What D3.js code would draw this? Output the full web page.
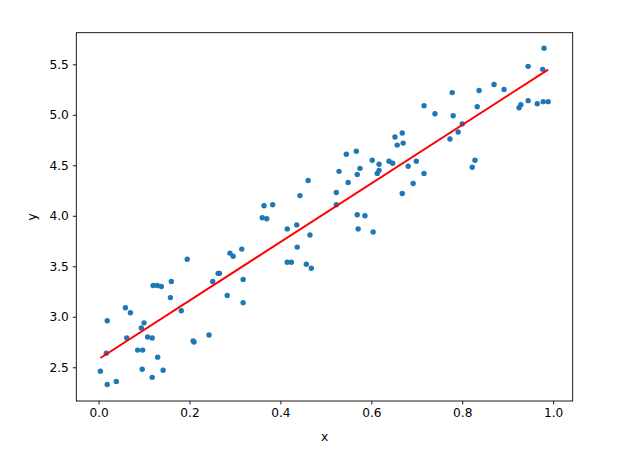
<!DOCTYPE html>
<html>
<head>
<meta charset="utf-8">
<script src="https://cdn.jsdelivr.net/npm/d3@7"></script>
<style>
  body { margin: 0; background: #fff; }
  text { font-family: "DejaVu Sans", sans-serif; }
</style>
</head>
<body>
<svg id="chart" width="622" height="451"></svg>
<script>
// scatter values
var xs = [0.004, 0.019, 0.039, 0.017, 0.019, 0.059, 0.070, 0.062, 0.094, 0.100,
  0.108, 0.118, 0.086, 0.097, 0.096, 0.130, 0.118, 0.142, 0.120, 0.129,
  0.138, 0.160, 0.158, 0.182, 0.195, 0.208, 0.210, 0.243, 0.251, 0.263,
  0.266, 0.283, 0.289, 0.296, 0.315, 0.318, 0.318, 0.360, 0.370, 0.364,
  0.383, 0.415, 0.436, 0.415, 0.424, 0.437, 0.457, 0.468, 0.465, 0.443,
  0.461, 0.523, 0.523, 0.529, 0.549, 0.545, 0.567, 0.569, 0.575, 0.569,
  0.571, 0.586, 0.604, 0.602, 0.617, 0.613, 0.617, 0.639, 0.647, 0.652,
  0.657, 0.668, 0.670, 0.681, 0.699, 0.692, 0.716, 0.668, 0.716, 0.740,
  0.773, 0.791, 0.800, 0.778, 0.780, 0.822, 0.828, 0.833, 0.837, 0.870,
  0.892, 0.925, 0.929, 0.945, 0.945, 0.965, 0.978, 0.989, 0.980, 0.977];
var ys = [2.46, 2.33, 2.36, 2.64, 2.96, 3.09, 3.04, 2.79, 2.89, 2.94,
  2.80, 2.79, 2.67, 2.67, 2.48, 2.60, 2.40, 2.47, 3.31, 3.31,
  3.30, 3.35, 3.19, 3.06, 3.57, 2.76, 2.75, 2.82, 3.35, 3.43,
  3.43, 3.21, 3.63, 3.60, 3.67, 3.37, 3.14, 3.98, 3.97, 4.10,
  4.11, 3.87, 3.91, 3.54, 3.54, 3.69, 3.52, 3.48, 3.81, 4.20,
  4.35, 4.23, 4.11, 4.44, 4.33, 4.61, 4.64, 4.41, 4.47, 4.01,
  3.87, 4.00, 3.84, 4.55, 4.51, 4.42, 4.45, 4.54, 4.52, 4.78,
  4.70, 4.82, 4.72, 4.49, 4.54, 4.32, 4.42, 4.22, 5.09, 5.01,
  4.76, 4.83, 4.91, 5.22, 4.99, 4.48, 4.55, 5.08, 5.24, 5.30,
  5.25, 5.07, 5.10, 5.48, 5.14, 5.11, 5.13, 5.13, 5.66, 5.45];
var fit = [2.58, 2.90]; // intercept, slope
var xTicks = [0.0, 0.2, 0.4, 0.6, 0.8, 1.0];
var yTicks = [2.5, 3.0, 3.5, 4.0, 4.5, 5.0, 5.5];

var svg = d3.select("#chart");
var m = { left: 76.3, right: 572.7, top: 32.7, bottom: 401 };

var x = d3.scaleLinear().domain([-0.049, 1.043]).range([m.left, m.right]);
var y = d3.scaleLinear().domain([2.166, 5.813]).range([m.bottom, m.top]);

var pts = xs.map(function(v, i) { return [v, ys[i]]; });

svg.append("g").selectAll("circle")
  .data(pts)
  .enter().append("circle")
  .attr("cx", function(d) { return x(d[0]); })
  .attr("cy", function(d) { return y(d[1]); })
  .attr("r", 2.7)
  .attr("fill", "#1f77b4");

var xExt = d3.extent(xs);
svg.append("line")
  .attr("x1", x(xExt[0])).attr("y1", y(fit[0] + fit[1] * xExt[0]))
  .attr("x2", x(xExt[1])).attr("y2", y(fit[0] + fit[1] * xExt[1]))
  .attr("stroke", "red")
  .attr("stroke-width", 2);

svg.append("rect")
  .attr("x", m.left).attr("y", m.top)
  .attr("width", m.right - m.left).attr("height", m.bottom - m.top)
  .attr("fill", "none").attr("stroke", "#000").attr("stroke-width", 0.9);

var xAxis = svg.append("g")
  .attr("transform", "translate(0," + m.bottom + ")")
  .call(d3.axisBottom(x).tickValues(xTicks).tickFormat(d3.format(".1f")).tickSizeOuter(0).tickSize(3.5).tickPadding(4));
var yAxis = svg.append("g")
  .attr("transform", "translate(" + m.left + ",0)")
  .call(d3.axisLeft(y).tickValues(yTicks).tickFormat(d3.format(".1f")).tickSizeOuter(0).tickSize(3.5).tickPadding(4));

[xAxis, yAxis].forEach(function(g) {
  g.select(".domain").remove();
  g.selectAll("text").attr("font-size", "12.2px").attr("fill", "#000")
    .style("font-family", "DejaVu Sans");
  g.selectAll("line").attr("stroke", "#000").attr("stroke-width", 0.9);
});

svg.append("text")
  .attr("x", (m.left + m.right) / 2).attr("y", 441)
  .attr("text-anchor", "middle").attr("font-size", "12.2px")
  .text("x");
svg.append("text")
  .attr("transform", "translate(36," + ((m.top + m.bottom) / 2) + ") rotate(-90)")
  .attr("text-anchor", "middle").attr("font-size", "12.2px")
  .text("y");
</script>
</body>
</html>
